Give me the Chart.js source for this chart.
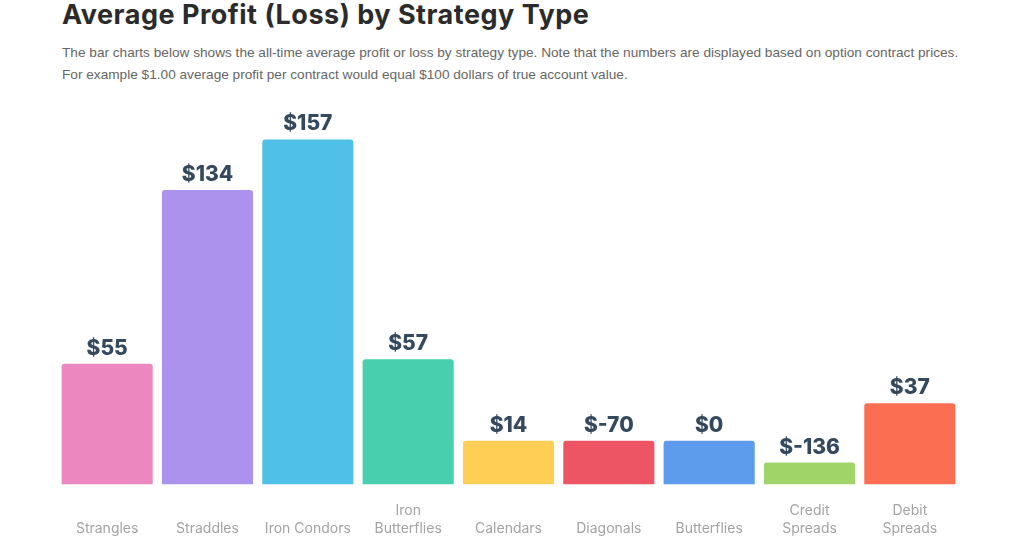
<!DOCTYPE html>
<html>
<head>
<meta charset="utf-8">
<script src="https://cdn.jsdelivr.net/npm/chart.js@4"></script>
<style>
  body { margin: 0; background: #fff; overflow: hidden; }
  #head { position: absolute; left: 62px; top: 0; }
  #head h2 { margin: 0; font: 700 27px Inter, sans-serif; color: #2b2b2b; line-height: 30px; letter-spacing: 0.5px; }
  #head p { margin: 12px 0 0 0; font: 13.65px "Liberation Sans", Arial, sans-serif; color: #666; line-height: 22px; }
  #wrap { position: absolute; left: 0; top: 101px; width: 1024px; height: 454px; }
</style>
</head>
<body>
<div id="head">
  <h2>Average Profit (Loss) by Strategy Type</h2>
  <p>The bar charts below shows the all-time average profit or loss by strategy type. Note that the numbers are displayed based on option contract prices.<br>For example $1.00 average profit per contract would equal $100 dollars of true account value.</p>
</div>
<div id="wrap"><canvas id="myChart"></canvas></div>
<script>
  // Categories (two lines, bottom aligned)
  const strategies = [
    ['', 'Strangles'], ['', 'Straddles'], ['', 'Iron Condors'], ['Iron', 'Butterflies'],
    ['', 'Calendars'], ['', 'Diagonals'], ['', 'Butterflies'], ['Credit', 'Spreads'], ['Debit', 'Spreads']
  ];
  // Average profit shown on top of each bar
  const avgProfit = [55, 134, 157, 57, 14, -70, 0, -136, 37];
  // Bar heights as drawn in the picture
  const barHeights = [55, 134, 157, 57, 20, 20, 20, 10, 37];
  const barColors = ['#EC87C0', '#AC92EC', '#4FC1E9', '#48CFAD', '#FFCE54', '#ED5565', '#5D9CEC', '#A0D468', '#FC6E51'];

  Chart.defaults.font.family = 'Inter, sans-serif';

  // Draw the dollar labels above the bars
  const valueLabels = {
    id: 'valueLabels',
    afterDatasetsDraw(chart) {
      const ctx = chart.ctx;
      const meta = chart.getDatasetMeta(0);
      ctx.save();
      ctx.font = '800 21px Inter, sans-serif';
      ctx.fillStyle = '#34495e';
      ctx.textAlign = 'center';
      ctx.textBaseline = 'alphabetic';
      meta.data.forEach((bar, i) => {
        ctx.fillText('$' + avgProfit[i], bar.x, bar.y - 9);
      });
      ctx.restore();
    }
  };

  const ctx = document.getElementById('myChart');

  const config = {
    type: 'bar',
    data: {
      labels: strategies,
      datasets: [
        {
          data: barHeights,
          backgroundColor: barColors,
          borderRadius: 3,
          barPercentage: 0.908,
          categoryPercentage: 1.0
        }
      ]
    },
    options: {
      responsive: true,
      maintainAspectRatio: false,
      animation: false,
      layout: { padding: { left: 57, right: 64, top: 0, bottom: 0 } },
      plugins: {
        legend: { display: false },
        tooltip: { enabled: false }
      },
      scales: {
        x: {
          grid: { display: false, drawTicks: false },
          border: { display: false },
          ticks: {
            padding: 17,
            color: '#a3a3a3',
            font: { size: 14, lineHeight: 1.3 },
            maxRotation: 0,
            autoSkip: false
          }
        },
        y: {
          display: false,
          min: 0,
          max: 174.5
        }
      }
    },
    plugins: [valueLabels]
  };

  const myChart = new Chart(ctx, config);
</script>
</body>
</html>
